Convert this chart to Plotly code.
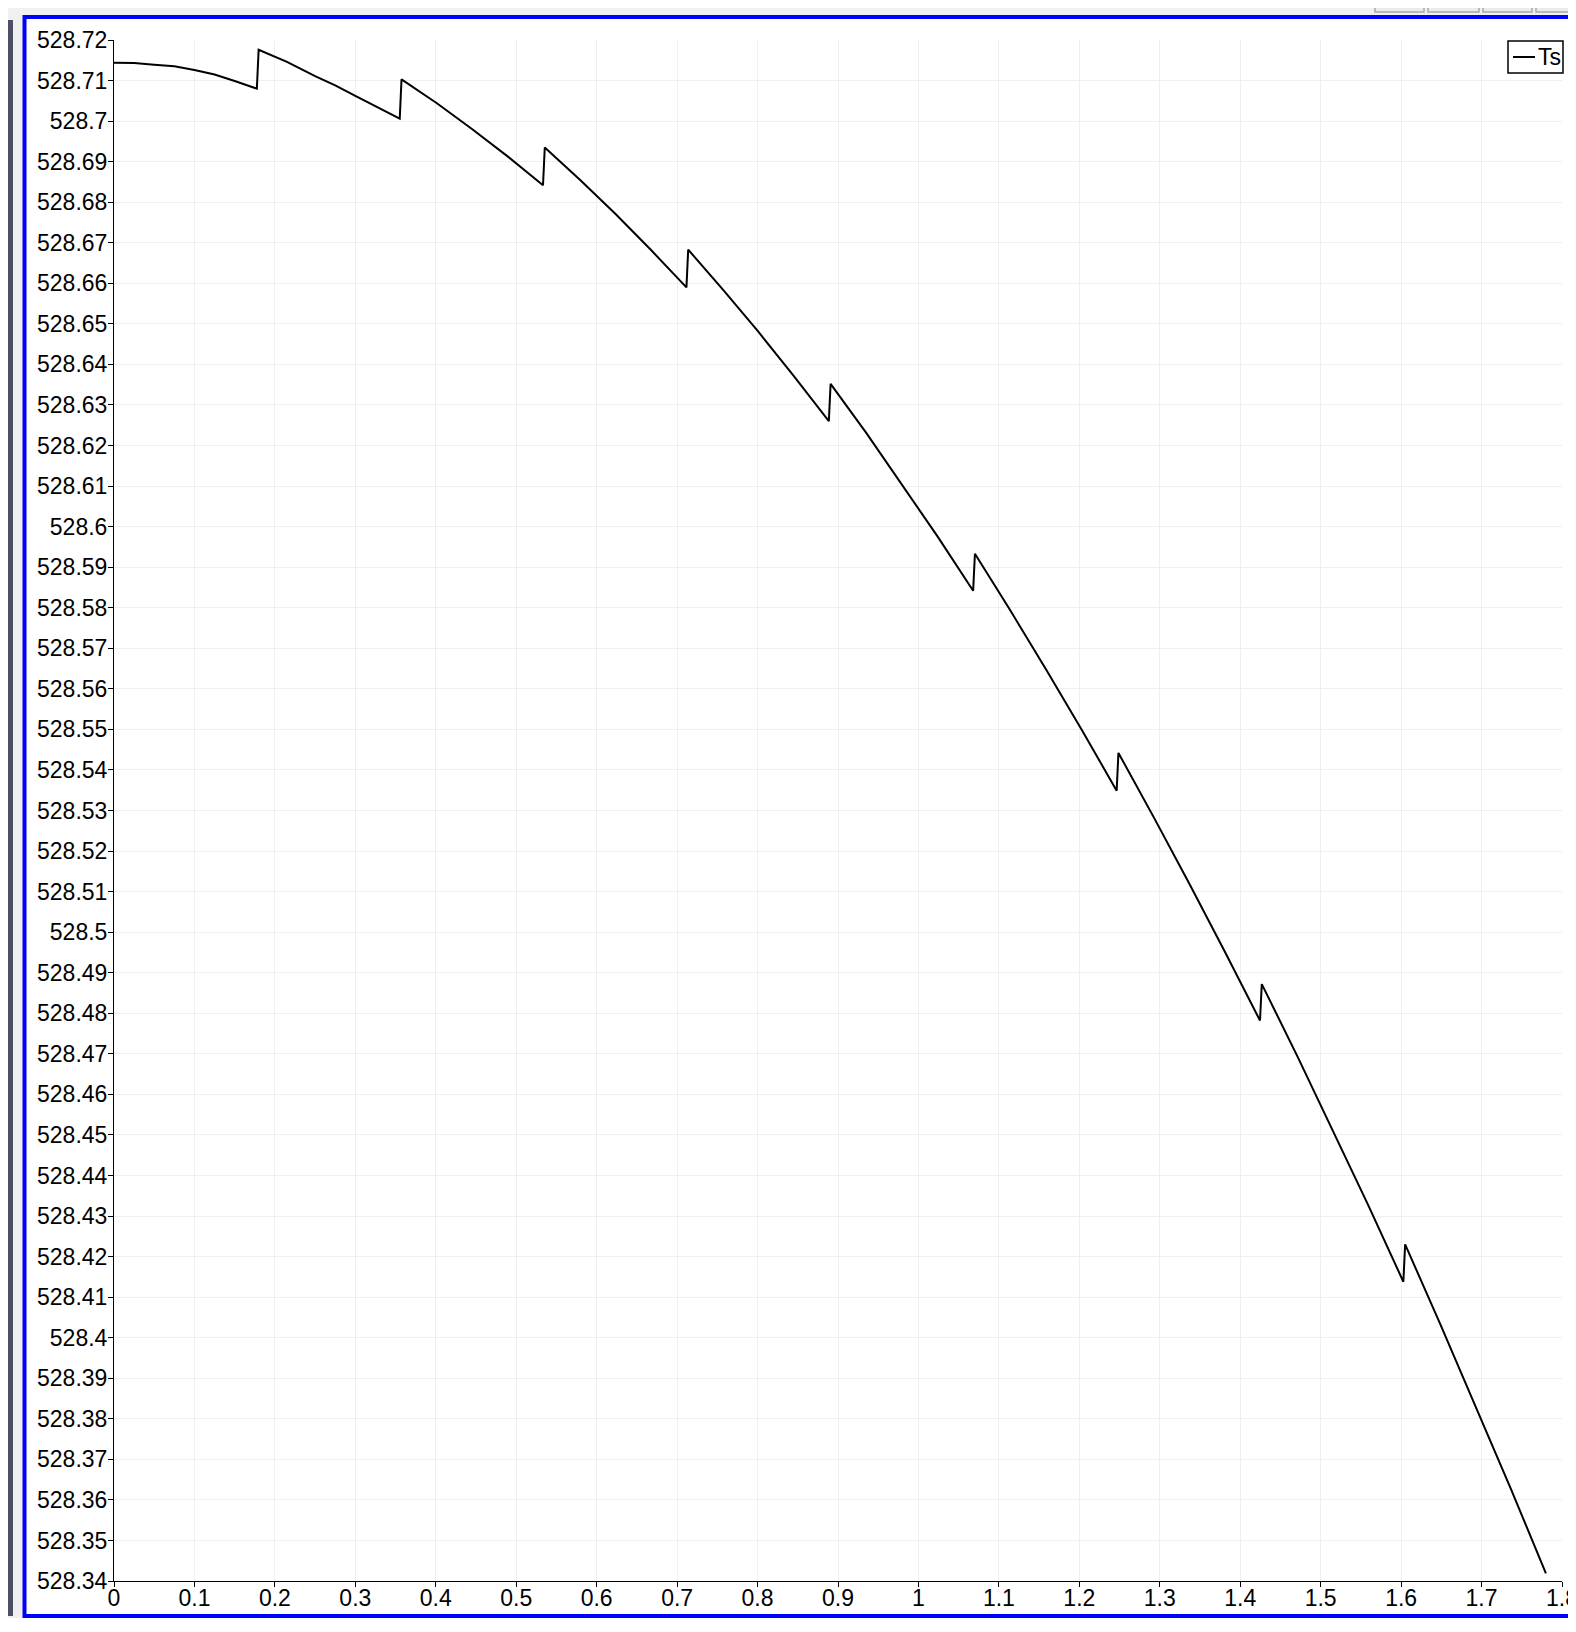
import plotly.graph_objects as go

# Ts vs time (dips just before each jump, peaks just after)
ts_x = [0.0, 0.025, 0.05, 0.075, 0.1, 0.125, 0.15, 0.1776,
        0.1798, 0.215, 0.25, 0.275, 0.30, 0.33, 0.3552,
        0.3574, 0.4014, 0.4454, 0.4893, 0.5333,
        0.5355, 0.5795, 0.6235, 0.6676, 0.7116,
        0.7138, 0.7575, 0.8012, 0.8449, 0.8886,
        0.8908, 0.9351, 0.9794, 1.0237, 1.0680,
        1.0702, 1.1143, 1.1583, 1.2024, 1.2464,
        1.2486, 1.2926, 1.3366, 1.3806, 1.4246,
        1.4268, 1.4708, 1.5148, 1.5588, 1.6028,
        1.6050, 1.6488, 1.6925, 1.7363, 1.7800]
ts_y = [528.7144, 528.7143, 528.7139, 528.7135, 528.7126, 528.7115, 528.7099, 528.7080,
        528.7176, 528.7146, 528.7111, 528.7088, 528.7062, 528.7031, 528.7006,
        528.7103, 528.7044, 528.6980, 528.6913, 528.6842,
        528.6935, 528.6855, 528.6771, 528.6682, 528.6590,
        528.6683, 528.6583, 528.6480, 528.6372, 528.6260,
        528.6352, 528.6231, 528.6105, 528.5976, 528.5842,
        528.5933, 528.5793, 528.5649, 528.5501, 528.5349,
        528.5442, 528.5283, 528.5120, 528.4953, 528.4782,
        528.4872, 528.4695, 528.4513, 528.4328, 528.4138,
        528.4230, 528.4033, 528.3833, 528.3628, 528.3419]

x_range = [0, 1.8]
y_range = [528.34, 528.72]

# the page body has an 8px margin on every side, so the figure is made
# smaller (no scrollbars) and all page positions below are shifted by OFF
OFF = 8
W, H = 1568, 1610
L, R, T, B = 106, 14, 32, 37


def px(X):
    # page column -> paper x
    return (X - OFF - L) / (W - L - R)


def py(Y):
    # page row -> paper y
    return (H - B - (Y - OFF)) / (H - T - B)


def box(x0, y0, x1, y1, **kw):
    return dict(type="rect", xref="paper", yref="paper", layer="below",
                x0=px(x0), x1=px(x1), y0=py(y1), y1=py(y0), **kw)


fig = go.Figure()
fig.add_trace(go.Scatter(x=ts_x, y=ts_y, mode="lines", name="Ts",
                         line=dict(color="black", width=2), showlegend=False))

btn = dict(fillcolor="#ebebeb", line=dict(color="#a8a8a8", width=1.5))
shapes = [
    # blue frame of the view
    box(24.5, 17, 1600, 1616, fillcolor="white", line=dict(color="#0000ff", width=4)),
    # dark strip on the left edge
    box(7, 20, 13, 1616, fillcolor="#4d5064", line=dict(width=0)),
    # toolbar buttons at the top right
    box(1375, -6, 1424, 12, **btn),
    box(1428, -6, 1479, 12, **btn),
    box(1483, -6, 1532, 12, **btn),
    box(1536, -6, 1600, 12, **btn),
    box(1491, -6, 1525, 3, fillcolor="rgba(0,0,0,0)", line=dict(color="#333333", width=3)),
    # legend box with its line sample
    dict(type="rect", xref="paper", yref="paper", layer="above",
         x0=px(1508), x1=px(1563), y0=py(73), y1=py(41),
         fillcolor="white", line=dict(color="black", width=1.5)),
    dict(type="line", xref="paper", yref="paper", layer="above",
         x0=px(1513), x1=px(1535), y0=py(57), y1=py(57),
         line=dict(color="black", width=2)),
]

annotations = [
    dict(text="Ts", xref="paper", yref="paper", x=px(1536), y=py(57),
         xanchor="left", yanchor="middle", showarrow=False,
         font=dict(size=23, color="black")),
]

fig.update_layout(
    width=W, height=H,
    margin=dict(l=L, r=R, t=T, b=B, pad=0, autoexpand=False),
    paper_bgcolor="#f0f0f0",
    plot_bgcolor="white",
    font=dict(family="Liberation Sans, Arial, sans-serif", size=23, color="black"),
    shapes=shapes,
    annotations=annotations,
    showlegend=False,
    xaxis=dict(range=x_range, dtick=0.1, tick0=0, automargin=False,
               showline=True, linecolor="black", linewidth=1,
               ticks="outside", ticklen=5, tickcolor="black",
               showgrid=True, gridcolor="#efefef", gridwidth=1,
               zeroline=False, tickfont=dict(size=23),
               ticklabelstandoff=-9, ticklabeloverflow="allow"),
    yaxis=dict(range=y_range, dtick=0.01, tick0=528.34, automargin=False,
               showline=True, linecolor="black", linewidth=1,
               ticks="outside", ticklen=5, tickcolor="black",
               showgrid=True, gridcolor="#efefef", gridwidth=1,
               zeroline=False, tickfont=dict(size=23),
               ticklabelstandoff=-4),
)

fig.write_html("out.html")
